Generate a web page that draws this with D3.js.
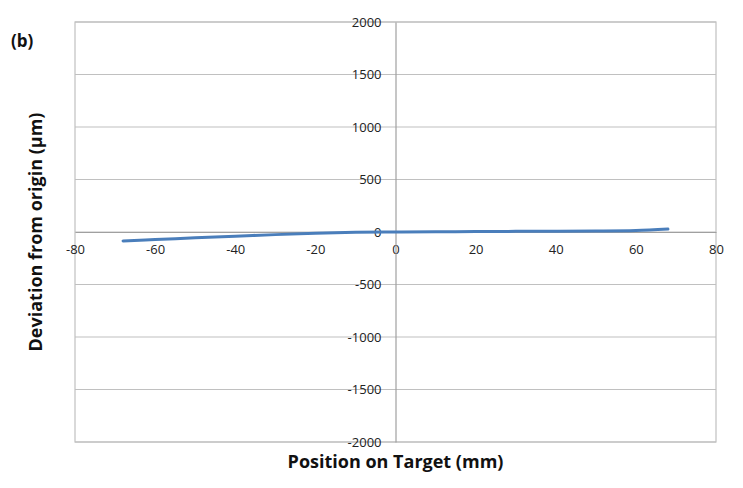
<!DOCTYPE html>
<html lang="en">
<head>
<meta charset="utf-8">
<title>Deviation from origin</title>
<script src="https://cdnjs.cloudflare.com/ajax/libs/d3/7.8.5/d3.min.js"></script>
<style>
  body { margin: 0; background: #fff; }
  text { font-family: "Open Sans", "Liberation Sans", sans-serif; }
</style>
</head>
<body>
<script>
// measured series (position mm, deviation µm)
var positions  = [-68, -60, -50, -40, -30, -20, -10, 0, 10, 20, 30, 40, 50, 60, 68];
var deviations = [-85, -72, -55, -40, -25, -12, -3, 0, 2, 4, 6, 7, 9, 14, 28];
var xTicks = [-80, -60, -40, -20, 0, 20, 40, 60, 80];
var yTicks = [-2000, -1500, -1000, -500, 0, 500, 1000, 1500, 2000];

var W = 743, H = 488;
var margin = { top: 22, right: 27, bottom: 46, left: 75 };
var w = W - margin.left - margin.right;
var h = H - margin.top - margin.bottom;

var svg = d3.select("body").append("svg").attr("width", W).attr("height", H);
var g = svg.append("g").attr("transform", "translate(" + margin.left + "," + margin.top + ")");

var x = d3.scaleLinear().domain([-80, 80]).range([0, w]);
var y = d3.scaleLinear().domain([-2000, 2000]).range([h, 0]);

var plain = function(d) { return String(d); }; // "-2000", no thousands comma

// horizontal gridlines
g.append("g")
    .selectAll("line")
    .data(yTicks)
    .enter().append("line")
    .attr("x1", 0).attr("x2", w)
    .attr("y1", function(d) { return y(d); })
    .attr("y2", function(d) { return y(d); })
    .attr("stroke", "#c0c0c0")
    .attr("stroke-width", 1.2);

// plot border
g.append("rect")
    .attr("width", w).attr("height", h)
    .attr("fill", "none")
    .attr("stroke", "#c0c0c0")
    .attr("stroke-width", 1.2);

// x axis through y = 0
var xAxis = g.append("g")
    .attr("transform", "translate(0," + y(0) + ")")
    .call(d3.axisBottom(x).tickValues(xTicks).tickFormat(plain).tickSize(0).tickPadding(13));
xAxis.select(".domain").attr("stroke", "#a0a0a0").attr("stroke-width", 1.2);

// y axis through x = 0
var yAxis = g.append("g")
    .attr("transform", "translate(" + x(0) + ",0)")
    .call(d3.axisLeft(y).tickValues(yTicks).tickFormat(plain).tickSize(0).tickPadding(14));
yAxis.select(".domain").attr("stroke", "#a0a0a0").attr("stroke-width", 1.2);

g.selectAll(".tick text")
    .attr("fill", "#222")
    .style("font-size", "13px")
    .style("font-family", "'Open Sans', sans-serif");

// the series
var line = d3.line()
    .x(function(d, i) { return x(positions[i]); })
    .y(function(d) { return y(d); })
    .curve(d3.curveMonotoneX);

g.append("path")
    .datum(deviations)
    .attr("d", line)
    .attr("fill", "none")
    .attr("stroke", "#4a7ebb")
    .attr("stroke-width", 3)
    .attr("stroke-linecap", "round");

// axis titles
svg.append("text")
    .attr("x", margin.left + x(0))
    .attr("y", 468)
    .attr("text-anchor", "middle")
    .style("font-weight", "bold")
    .style("font-size", "18px")
    .attr("fill", "#111")
    .text("Position on Target (mm)");

svg.append("text")
    .attr("transform", "translate(42," + (margin.top + y(0)) + ") rotate(-90)")
    .attr("text-anchor", "middle")
    .style("font-weight", "bold")
    .style("font-size", "18px")
    .attr("fill", "#111")
    .text("Deviation from origin (µm)");

svg.append("text")
    .attr("x", 11)
    .attr("y", 47)
    .style("font-weight", "bold")
    .style("font-size", "17px")
    .attr("fill", "#111")
    .text("(b)");
</script>
</body>
</html>
